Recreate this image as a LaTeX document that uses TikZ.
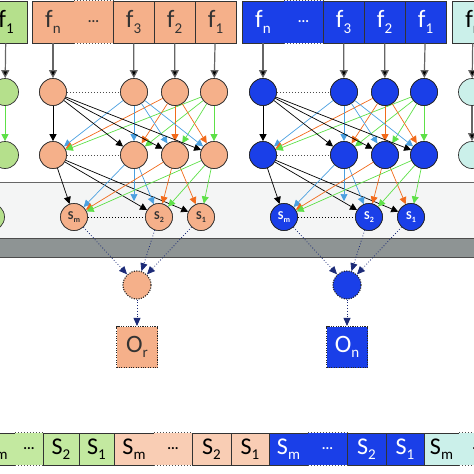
\documentclass[tikz,border=0pt]{standalone}
\usepackage{fontspec}
\setmainfont{Carlito}
\usetikzlibrary{arrows.meta}
\definecolor{peach}{HTML}{F5B08A}
\definecolor{peachlt}{HTML}{F9CDB4}
\definecolor{bluec}{HTML}{1A3FE8}
\definecolor{greenc}{HTML}{B5E08C}
\definecolor{greenlt}{HTML}{C3E9A0}
\definecolor{cyanc}{HTML}{CBF0EA}
\definecolor{aorange}{HTML}{F26A1B}
\definecolor{ablue}{HTML}{4BA0E0}
\definecolor{agreen}{HTML}{5EE048}
\definecolor{navy}{HTML}{1C2B78}
\definecolor{bandlt}{HTML}{F4F5F5}
\definecolor{banddk}{HTML}{8E9494}
\newcommand\mysub[1]{\raisebox{-0.22em}{\fontsize{15}{15}\selectfont #1}}
\newcommand\mycsub[1]{\raisebox{-0.2em}{\fontsize{8}{8}\selectfont #1}}
\begin{document}
\begin{tikzpicture}[x=1pt,y=-1pt,
  fbox/.style={draw=black!80, line width=0.7pt, minimum width=41pt, minimum height=42pt, inner sep=0pt, font=\fontsize{25}{25}\selectfont},
  dbox/.style={minimum width=39pt, minimum height=42pt, inner sep=0pt, font=\fontsize{14}{14}\selectfont\bfseries},
  sbox/.style={draw=black!80, line width=0.7pt, minimum height=32pt, inner sep=0pt, font=\fontsize{24}{24}\selectfont},
  sdots/.style={minimum height=32pt, inner sep=0pt, font=\fontsize{14}{14}\selectfont\bfseries},
  circ/.style={circle, draw=black!80, line width=0.7pt, minimum size=27pt, inner sep=0pt, font=\bfseries\fontsize{12}{12}\selectfont},
  conn/.style={line width=0.7pt, -{Triangle[length=7pt,width=7pt]}},
  feed/.style={line width=1.2pt, draw=black!60, -{Triangle[length=8pt,width=8pt,fill=black]}},
  outarr/.style={line width=0.8pt, navy, dotted, -{Triangle[length=8pt,width=7pt,fill=navy]}},
  ddot/.style={line width=1pt, dotted, draw=black!70},
  odot/.style={draw=black!85, line width=1.1pt, dash pattern=on 1.1pt off 1.3pt}]
\useasboundingbox (0,0) rectangle (474,474);
\clip (0,0) rectangle (474,474);
% background bands
\fill[bandlt] (-2,182) rectangle (476,238);
\draw[black!60, line width=0.7pt] (-2,182) -- (476,182);
\fill[banddk] (-2,238) rectangle (476,257);
\draw[black!70, line width=0.7pt] (-2,238) -- (476,238);
\draw[black!70, line width=0.7pt] (-2,257) -- (476,257);

% ---------- left green column ----------
\node[fbox, fill=greenc, minimum width=42pt] (G-f1) at (6,22) {f\mysub{1}};
\node[circ, fill=greenc] (G-a4) at (5,92) {};
\node[circ, fill=greenc] (G-b4) at (5,155) {};
\node[circ, fill=greenc] (G-s1) at (-9,217) {};
\draw[feed] (G-f1) -- (G-a4);
\draw[conn, agreen, line width=1pt] (G-a4) -- (G-b4);

% ---------- right cyan column ----------
\node[fbox, fill=cyanc, minimum width=42pt] (C-fn) at (473,22) {f\mysub{n}};
\node[circ, fill=cyanc] (C-a1) at (472,92) {};
\node[circ, fill=cyanc] (C-b1) at (472,155) {};
\draw[feed] (C-fn) -- (C-a1);
\draw[feed] (C-a1) -- (C-b1);

% ---------- peach and blue groups ----------
\foreach \g/\dx/\fc/\tc/\cb/\oc/\ol in {P/0/peach/black!80/black!80/peach/r, B/210/bluec/white/black!85/bluec/n}{
  \begin{scope}[xshift=\dx pt]
  % input boxes
  \node[fbox, fill=\fc, text=\tc, minimum width=42pt] (\g-fn) at (53,22) {f\mysub{n}};
  \node[dbox, fill=\fc, text=\tc] (\g-fd) at (93.5,22) {...};
  \draw[ddot] (\g-fd.north west) -- (\g-fd.north east);
  \draw[ddot] (\g-fd.south west) -- (\g-fd.south east);
  \node[fbox, fill=\fc, text=\tc] (\g-f3) at (133.5,22) {f\mysub{3}};
  \node[fbox, fill=\fc, text=\tc] (\g-f2) at (174.5,22) {f\mysub{2}};
  \node[fbox, fill=\fc, text=\tc] (\g-f1) at (215.5,22) {f\mysub{1}};
  % layer 1
  \node[circ, fill=\fc, draw=\cb] (\g-a1) at (53,92) {};
  \node[circ, fill=\fc, draw=\cb] (\g-a2) at (134,92) {};
  \node[circ, fill=\fc, draw=\cb] (\g-a3) at (175,92) {};
  \node[circ, fill=\fc, draw=\cb] (\g-a4) at (214,92) {};
  % layer 2
  \node[circ, fill=\fc, draw=\cb] (\g-b1) at (53,155) {};
  \node[circ, fill=\fc, draw=\cb] (\g-b2) at (134,155) {};
  \node[circ, fill=\fc, draw=\cb] (\g-b3) at (175,155) {};
  \node[circ, fill=\fc, draw=\cb] (\g-b4) at (214,155) {};
  % S layer
  \node[circ, fill=\fc, draw=\cb, text=\tc] (\g-sm) at (74,217) {S\mycsub{m}};
  \node[circ, fill=\fc, draw=\cb, text=\tc] (\g-s2) at (159,217) {S\mycsub{2}};
  \node[circ, fill=\fc, draw=\cb, text=\tc] (\g-s1) at (201,217) {S\mycsub{1}};
  \coordinate (\g-x) at (134,201);
  % output
  \node[circle, minimum size=28pt, inner sep=0pt, fill=\oc, odot] (\g-o) at (137,285) {};
  \node[odot, fill=\oc, text=\tc, minimum size=41pt, inner sep=0pt, font=\fontsize{25}{25}\selectfont] (\g-ob) at (137,347) {O\mysub{\ol}};
  \end{scope}
  % feed arrows
  \draw[feed] (\g-fn) -- (\g-a1);
  \draw[feed] (\g-f3) -- (\g-a2);
  \draw[feed] (\g-f2) -- (\g-a3);
  \draw[feed] (\g-f1) -- (\g-a4);
  % dotted links
  \draw[ddot] (\g-a1) -- (\g-a2);
  \draw[ddot] (\g-b1) -- (\g-b2);
  \draw[ddot, draw=black] (\g-sm) -- (\g-s2);
  % layer1 -> layer2
  \foreach \j in {1,...,4}{
    \draw[conn, black] (\g-a1) -- (\g-b\j);
    \draw[conn, ablue] (\g-a2) -- (\g-b\j);
    \draw[conn, aorange] (\g-a3) -- (\g-b\j);
    \draw[conn, agreen] (\g-a4) -- (\g-b\j);
  }
  % layer2 -> S layer
  \draw[conn, black] (\g-b1) -- (\g-sm);
  \draw[conn, black] (\g-b1) -- (\g-s2);
  \draw[conn, black] (\g-b1) -- (\g-s1);
  \draw[conn, ablue] (\g-b2) -- (\g-sm);
  \draw[conn, ablue] (\g-b2) -- (\g-x);
  \draw[conn, ablue] (\g-b2) -- (\g-s2);
  \draw[conn, aorange] (\g-b3) -- (\g-sm);
  \draw[conn, aorange] (\g-b3) -- (\g-s2);
  \draw[conn, aorange] (\g-b3) -- (\g-s1);
  \draw[conn, agreen] (\g-b4) -- (\g-sm);
  \draw[conn, agreen] (\g-b4) -- (\g-s2);
  \draw[conn, agreen] (\g-b4) -- (\g-s1);
  % S -> output
  \draw[outarr] (\g-sm) -- (\g-o);
  \draw[outarr] (\g-s2) -- (\g-o);
  \draw[outarr] (\g-s1) -- (\g-o);
  \draw[outarr] (\g-o) -- (\g-ob);
}
% redraw circles on top of connectors
\foreach \g/\fc/\cb/\tc in {P/peach/black!80/black!80, B/bluec/black!85/white}{
  \foreach \n in {a1,a2,a3,a4,b1,b2,b3,b4}{
    \path (\g-\n) node[circ, fill=\fc, draw=\cb] {};
  }
  \path (\g-sm) node[circ, fill=\fc, draw=\cb, text=\tc] {S\mycsub{m}};
  \path (\g-s2) node[circ, fill=\fc, draw=\cb, text=\tc] {S\mycsub{2}};
  \path (\g-s1) node[circ, fill=\fc, draw=\cb, text=\tc] {S\mycsub{1}};
}

% ---------- bottom sequence ----------
\node[sbox, fill=greenlt, minimum width=38pt] (q1) at (-4,449) {S\mysub{m}};
\node[sdots, fill=greenlt, minimum width=28pt] (q2) at (29,449) {...};
\node[sbox, fill=greenlt, minimum width=36pt] (q3) at (61,449) {S\mysub{2}};
\node[sbox, fill=greenlt, minimum width=35pt] (q4) at (96.5,449) {S\mysub{1}};
\node[sbox, fill=peachlt, minimum width=40pt] (q5) at (134,449) {S\mysub{m}};
\node[sdots, fill=peachlt, minimum width=38pt] (q6) at (173,449) {...};
\node[sbox, fill=peachlt, minimum width=39pt] (q7) at (211.5,449) {S\mysub{2}};
\node[sbox, fill=peachlt, minimum width=38pt] (q8) at (250,449) {S\mysub{1}};
\node[sbox, fill=bluec, text=white, minimum width=39pt] (q9) at (288.5,449) {S\mysub{m}};
\node[sdots, fill=bluec, text=white, minimum width=39pt] (q10) at (327.5,449) {...};
\node[sbox, fill=bluec, text=white, minimum width=39pt] (q11) at (366.5,449) {S\mysub{2}};
\node[sbox, fill=bluec, text=white, minimum width=38pt] (q12) at (405,449) {S\mysub{1}};
\node[sbox, fill=cyanc, minimum width=35pt] (q13) at (441.5,449) {S\mysub{m}};
\node[sdots, fill=cyanc, minimum width=38pt] (q14) at (478,449) {...};
\foreach \q in {q2,q6,q10,q14}{
  \draw[ddot] (\q.north west) -- (\q.north east);
  \draw[ddot] (\q.south west) -- (\q.south east);
}
\end{tikzpicture}
\end{document}
